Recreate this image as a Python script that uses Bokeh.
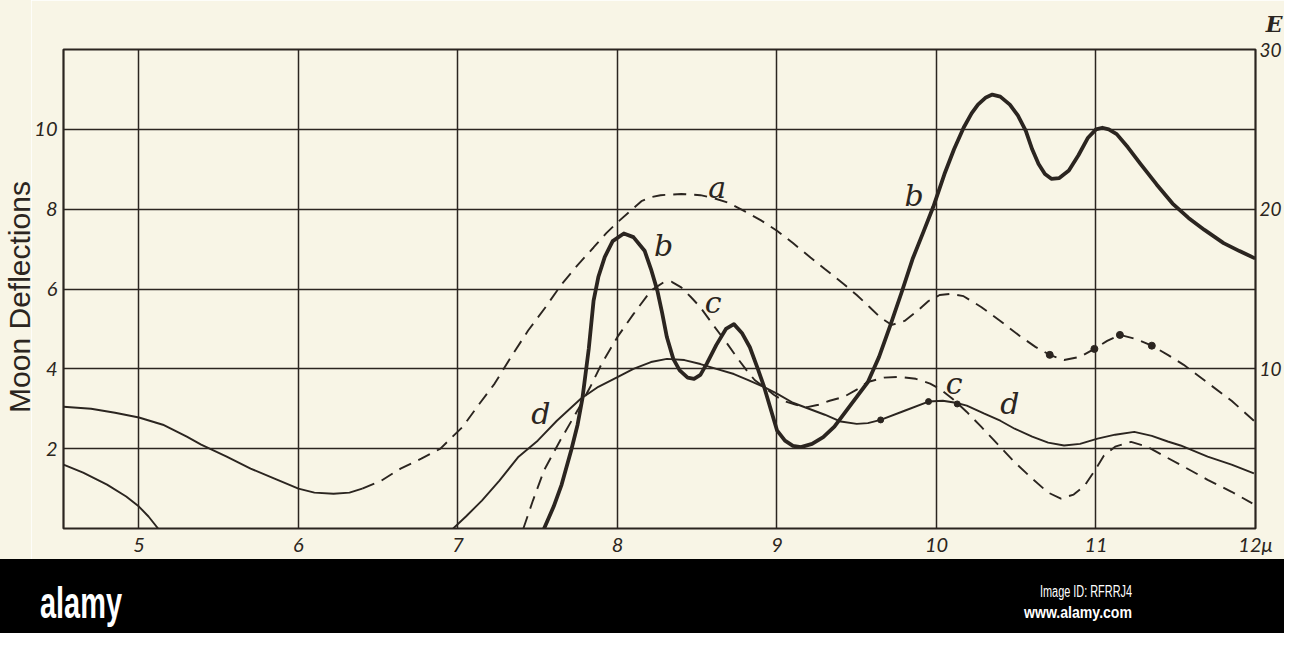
import numpy as np
from bokeh.plotting import figure
from bokeh.models import Range1d, LinearAxis, FixedTicker, Label, Title, Div
from bokeh.layouts import column, row
from bokeh.embed import file_html
from bokeh.resources import INLINE

# ---------------- data ----------------
X_TICKS = [5, 6, 7, 8, 9, 10, 11, 12]
Y_TICKS = [2, 4, 6, 8, 10]
E_TICKS = [10, 20, 30]
X_GRID = [5, 6, 7, 8, 9, 10, 11]

# curve a : solid at the left, dashed afterwards
A_SOLID_X = [4.527, 4.7, 4.85, 5.0, 5.15, 5.3, 5.39, 5.55, 5.7, 5.85, 6.0, 6.1, 6.22, 6.32, 6.4]
A_SOLID_Y = [3.05, 3.0, 2.9, 2.78, 2.6, 2.3, 2.1, 1.8, 1.5, 1.25, 1.0, 0.9, 0.87, 0.9, 1.0]
A_DASH_X = [6.4, 6.52, 6.64, 6.77, 6.89, 7.03, 7.13, 7.23, 7.33, 7.44, 7.55, 7.65, 7.75, 7.85,
            7.93, 8.0, 8.08, 8.15, 8.21, 8.27, 8.4, 8.52, 8.6, 8.69, 8.81, 8.9, 9.0, 9.1, 9.21,
            9.3, 9.42, 9.5, 9.58, 9.65, 9.72, 9.8, 9.88, 9.95, 10.02, 10.09, 10.17, 10.28, 10.4,
            10.52, 10.62, 10.71, 10.8, 10.9, 10.99, 11.07, 11.15, 11.25, 11.35, 11.45, 11.55,
            11.7, 11.85, 11.99]
A_DASH_Y = [1.0, 1.2, 1.5, 1.75, 2.0, 2.55, 3.1, 3.63, 4.28, 4.96, 5.55, 6.12, 6.6, 7.04,
            7.4, 7.67, 7.95, 8.2, 8.3, 8.35, 8.38, 8.35, 8.28, 8.17, 7.92, 7.72, 7.46, 7.15, 6.79,
            6.5, 6.12, 5.85, 5.55, 5.28, 5.1, 5.2, 5.45, 5.7, 5.85, 5.88, 5.82, 5.55, 5.2,
            4.83, 4.55, 4.35, 4.22, 4.3, 4.5, 4.7, 4.85, 4.75, 4.58, 4.35, 4.1,
            3.65, 3.2, 2.7]
A_DOT_X = [10.71, 10.99, 11.15, 11.35]
A_DOT_Y = [4.35, 4.5, 4.85, 4.58]

# curve b : heavy solid
B_X = [7.54, 7.6, 7.65, 7.71, 7.75, 7.78, 7.82, 7.85, 7.88, 7.92, 7.97, 8.04, 8.1, 8.17, 8.21,
       8.25, 8.28, 8.31, 8.35, 8.39, 8.44, 8.48, 8.52, 8.56, 8.62, 8.68, 8.73, 8.78, 8.83, 8.88,
       8.92, 8.96, 9.0, 9.05, 9.1, 9.15, 9.22, 9.29, 9.36, 9.42, 9.5, 9.57, 9.64, 9.71, 9.78,
       9.85, 9.92, 9.98, 10.05, 10.11, 10.17, 10.22, 10.26, 10.31, 10.35, 10.4, 10.46, 10.51,
       10.56, 10.6, 10.64, 10.68, 10.72, 10.77, 10.83, 10.89, 10.95, 11.0, 11.04, 11.08, 11.13,
       11.2, 11.28, 11.38, 11.48, 11.58, 11.68, 11.8, 11.9, 11.99]
B_Y = [0.0, 0.55, 1.1, 1.96, 2.6, 3.25, 4.5, 5.7, 6.3, 6.8, 7.2, 7.39, 7.3, 6.96, 6.5,
       5.96, 5.4, 4.79, 4.25, 3.96, 3.78, 3.75, 3.85, 4.13, 4.6, 5.0, 5.12, 4.9, 4.54, 4.0,
       3.54, 3.0, 2.46, 2.2, 2.07, 2.04, 2.12, 2.29, 2.55, 2.87, 3.3, 3.67, 4.3, 5.08, 5.9,
       6.75, 7.45, 8.06, 8.88, 9.5, 10.04, 10.4, 10.62, 10.8, 10.87, 10.82, 10.62, 10.35,
       9.96, 9.5, 9.13, 8.88, 8.76, 8.78, 8.97, 9.35, 9.79, 10.0, 10.04, 10.0, 9.88,
       9.55, 9.13, 8.62, 8.14, 7.78, 7.48, 7.15, 6.95, 6.78]

# curve c : dashed
C_X = [7.41, 7.47, 7.54, 7.64, 7.75, 7.83, 7.9, 8.0, 8.1, 8.21, 8.29, 8.34, 8.4, 8.46, 8.52,
       8.6, 8.69, 8.75, 8.81, 8.86, 8.92, 8.98, 9.04, 9.12, 9.19, 9.26, 9.33, 9.42, 9.5, 9.57,
       9.67, 9.77, 9.87, 9.96, 10.02, 10.1, 10.19, 10.28, 10.37, 10.48, 10.6, 10.7, 10.78,
       10.86, 10.93, 11.0, 11.05, 11.12, 11.22, 11.32, 11.42, 11.55, 11.7, 11.85, 11.98]
C_Y = [0.0, 0.7, 1.46, 2.2, 2.96, 3.55, 4.12, 4.8, 5.37, 5.96, 6.17, 6.18, 6.04, 5.8, 5.54,
       5.1, 4.62, 4.28, 3.96, 3.72, 3.54, 3.35, 3.2, 3.1, 3.04, 3.1, 3.2, 3.3, 3.48, 3.67,
       3.78, 3.8, 3.75, 3.63, 3.5, 3.25, 2.92, 2.55, 2.17, 1.7, 1.25, 0.9, 0.75,
       0.85, 1.08, 1.5, 1.83, 2.05, 2.17, 2.05, 1.83, 1.55, 1.22, 0.92, 0.63]

# curve d : thin solid (a short piece at the left and the main run)
D_LEFT_X = [4.527, 4.65, 4.8, 4.92, 5.0, 5.06, 5.12]
D_LEFT_Y = [1.6, 1.4, 1.1, 0.8, 0.55, 0.3, 0.0]
D_X = [6.97, 7.05, 7.15, 7.26, 7.38, 7.5, 7.62, 7.77, 7.88, 8.0, 8.1, 8.21, 8.31, 8.42, 8.52,
       8.62, 8.73, 8.82, 8.92, 9.0, 9.1, 9.2, 9.3, 9.4, 9.5, 9.57, 9.65, 9.8, 9.95, 10.04,
       10.12, 10.19, 10.3, 10.4, 10.49, 10.6, 10.7, 10.8, 10.9, 11.01, 11.12, 11.24, 11.35,
       11.45, 11.53, 11.7, 11.85, 11.99]
D_Y = [0.0, 0.3, 0.7, 1.2, 1.8, 2.2, 2.7, 3.25, 3.55, 3.79, 4.0, 4.17, 4.25, 4.22, 4.12,
       4.0, 3.87, 3.72, 3.54, 3.38, 3.15, 3.0, 2.85, 2.68, 2.62, 2.64, 2.72, 2.95, 3.18, 3.2,
       3.15, 3.08, 2.88, 2.7, 2.5, 2.3, 2.15, 2.08, 2.12, 2.25, 2.35, 2.42, 2.32,
       2.18, 2.08, 1.8, 1.6, 1.38]
D_DOT_X = [9.65, 9.95, 10.13]
D_DOT_Y = [2.72, 3.18, 3.12]

# curve letters
CURVE_LABELS = ["a", "b", "c", "d", "b", "c", "d"]
CURVE_LABEL_X = [8.625, 8.29, 8.6, 7.52, 9.86, 10.11, 10.46]
CURVE_LABEL_Y = [8.55, 7.1, 5.67, 2.875, 8.35, 3.63, 3.125]

Y_TITLE = "Moon Deflections"
E_TITLE = "E"
STOCK_LOGO = "alamy"
STOCK_ID = "Image ID: RFRRJ4"
STOCK_URL = "www.alamy.com"

# ---------------- styling ----------------
CREAM = "#f8f5e6"
INK = "#2b2520"
DASH = "13 8"
X_RANGE = (4.527, 12.0)
Y_RANGE = (0, 12)
TOP, BOTTOM = 47, 31
SIDE_W = 31
MAIN_H = 559
TOTAL_W = 1284
BAND_H = 74

# strip at the left holding the rotated y title (inline svg, real text)
side_html = (
    f'<svg xmlns="http://www.w3.org/2000/svg" width="{SIDE_W}" height="{MAIN_H}" '
    f'style="display:block;overflow:visible">'
    f'<rect x="0" y="0" width="{SIDE_W}" height="{MAIN_H}" fill="{CREAM}"/>'
    f'<text transform="translate(30,297) rotate(-90)" text-anchor="middle" '
    f'font-family="Lato" font-size="30" fill="{INK}">{Y_TITLE}</text>'
    '</svg>'
)
side = Div(text=side_html, width=SIDE_W, height=MAIN_H, margin=0)

p = figure(width=TOTAL_W - SIDE_W, height=MAIN_H,
           x_range=Range1d(*X_RANGE), y_range=Range1d(*Y_RANGE),
           output_backend="svg", toolbar_location=None,
           min_border_left=61 - SIDE_W, min_border_right=28,
           min_border_top=TOP, min_border_bottom=BOTTOM)
p.background_fill_color = CREAM
p.border_fill_color = CREAM
p.outline_line_color = INK
p.outline_line_width = 2.2

p.xgrid.ticker = FixedTicker(ticks=X_GRID)
p.ygrid.ticker = FixedTicker(ticks=Y_TICKS)
p.grid.grid_line_color = INK
p.grid.grid_line_width = 1.5

p.xaxis.ticker = FixedTicker(ticks=X_TICKS)
p.xaxis.major_label_overrides = {12: "12\u03bc"}
p.yaxis.ticker = FixedTicker(ticks=Y_TICKS)

p.extra_y_ranges = {"E": Range1d(0, 30)}
e_axis = LinearAxis(y_range_name="E", ticker=FixedTicker(ticks=E_TICKS))
p.add_layout(e_axis, "right")

for ax in p.axis:
    ax.axis_line_color = None
    ax.major_tick_line_color = None
    ax.minor_tick_line_color = None
    ax.major_tick_out = 0
    ax.major_tick_in = 0
    ax.minor_tick_out = 0
    ax.minor_tick_in = 0
    ax.major_label_text_font = "Lato"
    ax.major_label_text_font_style = "italic"
    ax.major_label_text_font_size = "20px"
    ax.major_label_text_color = INK
p.xaxis.major_label_standoff = 3
p.yaxis.major_label_standoff = 6
e_axis.major_label_standoff = 4
e_axis.major_label_text_font_size = "19px"

p.add_layout(Title(text=E_TITLE, align="right", vertical_align="top", offset=-27, standoff=21,
                   text_font="DejaVu Serif", text_font_style="bold italic",
                   text_font_size="22px", text_color=INK), "above")

# curves
p.line(A_SOLID_X, A_SOLID_Y, line_color=INK, line_width=1.9)
p.line(A_DASH_X, A_DASH_Y, line_color=INK, line_width=1.9, line_dash=DASH)
p.line(C_X, C_Y, line_color=INK, line_width=1.9, line_dash=DASH)
p.line(D_LEFT_X, D_LEFT_Y, line_color=INK, line_width=1.9)
p.line(D_X, D_Y, line_color=INK, line_width=1.9)
p.line(B_X, B_Y, line_color=INK, line_width=3.8, line_join="round", line_cap="round")
p.scatter(A_DOT_X, A_DOT_Y, size=7, color=INK)
p.scatter(D_DOT_X, D_DOT_Y, size=6, color=INK)

for t, x, y in zip(CURVE_LABELS, CURVE_LABEL_X, CURVE_LABEL_Y):
    p.add_layout(Label(x=x, y=y, text=t, text_font="DejaVu Serif",
                       text_font_style="italic", text_font_size="30px",
                       text_color=INK, text_align="center", text_baseline="middle"))

# ---------------- bottom stock-photo band ----------------
band_html = (
    f'<svg xmlns="http://www.w3.org/2000/svg" width="{TOTAL_W}" height="{BAND_H}" '
    'style="display:block">'
    f'<rect x="0" y="0" width="{TOTAL_W}" height="{BAND_H}" fill="#000"/>'
    f'<text x="40" y="59" font-family="Lato" font-weight="900" font-size="44" fill="#fff" '
    f'textLength="82" lengthAdjust="spacingAndGlyphs">{STOCK_LOGO}</text>'
    f'<text x="1132" y="38" text-anchor="end" font-family="Open Sans" font-size="16" fill="#fff" '
    f'textLength="92" lengthAdjust="spacingAndGlyphs">{STOCK_ID}</text>'
    f'<text x="1132" y="59" text-anchor="end" font-family="Open Sans" font-weight="700" '
    f'font-size="17" fill="#fff" textLength="108" lengthAdjust="spacingAndGlyphs">{STOCK_URL}</text>'
    '</svg>'
)
band = Div(text=band_html, width=TOTAL_W, height=BAND_H, margin=0)

layout = column(row(side, p, spacing=0), band, spacing=0)
open("out.html", "w").write(file_html(layout, INLINE))
